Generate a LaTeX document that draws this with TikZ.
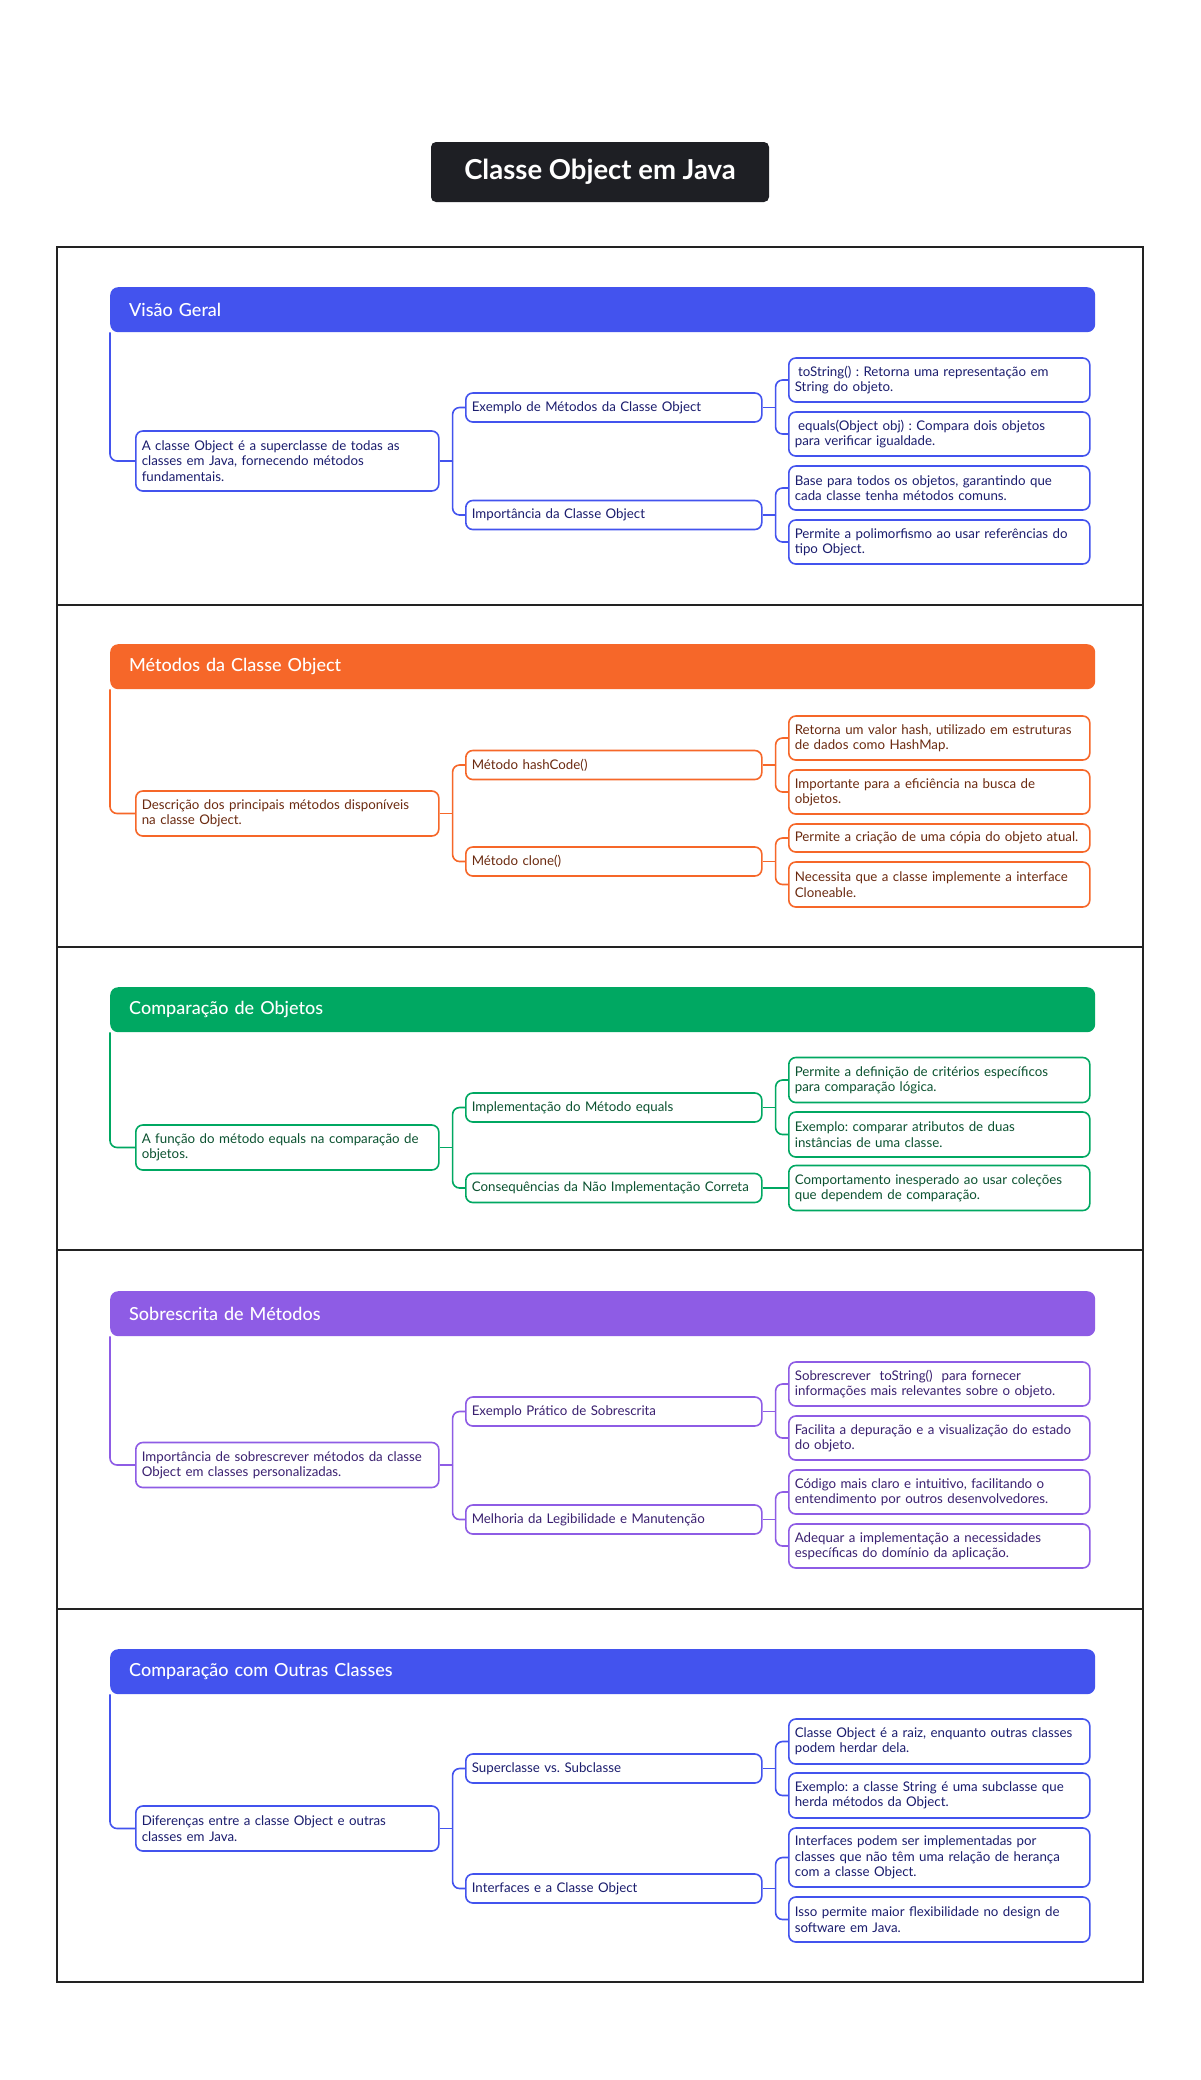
\documentclass[tikz,border=0pt]{standalone}
\usepackage{fontspec}
\setmainfont{Lato}
\IfFontExistsTF{Lato Medium}{\newfontfamily\medfam{Lato Medium}}{\newcommand\medfam{}}
\definecolor{bC}{HTML}{4353EE}
\definecolor{bT}{HTML}{1B1D6E}
\definecolor{oC}{HTML}{F66729}
\definecolor{oT}{HTML}{6B2A10}
\definecolor{gC}{HTML}{00A862}
\definecolor{gT}{HTML}{0B5230}
\definecolor{pC}{HTML}{8E5CE5}
\definecolor{pT}{HTML}{3A2070}
\definecolor{titleC}{HTML}{1E1F24}
\definecolor{frameC}{HTML}{222222}
\colorlet{cur}{bC}
\colorlet{curT}{bT}
\newcommand\bodyf{\frenchspacing\fontsize{13.3}{15.3}\selectfont}
\newcommand\hdrf{\frenchspacing\medfam\fontsize{18}{21}\selectfont}
\newcommand\titlef{\bfseries\fontsize{27.5}{31}\selectfont}
\tikzset{
  hdr/.style={fill=cur, text=white, rounded corners=8pt, anchor=north west,
    minimum height=45pt, text width=947pt, inner xsep=19pt, inner ysep=0pt,
    align=left, font=\hdrf},
  bx/.style={draw=cur, line width=1.6pt, fill=white, rounded corners=7pt,
    anchor=west, inner xsep=6pt, inner ysep=0pt, align=left, text=curT,
    font=\bodyf, minimum height=#1},
  lvA/.style={bx={#1}, text width=291pt},
  lvA/.default=45pt,
  lvB/.style={bx={29pt}, text width=284pt},
  leafbox/.style={bx={#1}, text width=289pt},
  leafbox/.default=44pt,
  conn/.style={draw=cur, line width=1.6pt, rounded corners=7pt},
  stub/.style={draw=cur, line width=1.6pt}
}
\begin{document}
\begin{tikzpicture}[x=1pt,y=-1pt]
\useasboundingbox (0,0) rectangle (1200,2080);
\fill[white] (0,0) rectangle (1200,2080);
% title
\node[fill=titleC, rounded corners=5pt, minimum width=338pt, minimum height=60pt,
  text=white, font=\titlef, inner sep=0pt] (title) at (600,172) {Classe Object em Java};
% frame
\draw[frameC, line width=1.8pt] (57,247) rectangle (1143,1982);
\foreach \yy in {605,947,1250,1609} \draw[frameC, line width=1.8pt] (57,\yy) -- (1143,\yy);

% ---------- Section 1
\begin{scope}
\colorlet{cur}{bC}\colorlet{curT}{bT}
\node[hdr] (h1) at (110,287) {Visão Geral};
\node[lvA=60pt] (a1) at (135,461) {A classe Object é a superclasse de todas as\\classes em Java, fornecendo métodos\\fundamentais.};
\node[lvB] (a2) at (465,407.5) {Exemplo de Métodos da Classe Object};
\node[lvB] (a3) at (465,515) {Importância da Classe Object};
\node[leafbox] (a4) at (788,380) {\hspace*{0.25em}toString() : Retorna uma representação em\\String do objeto.};
\node[leafbox] (a5) at (788,434) {\hspace*{0.25em}equals(Object obj) : Compara dois objetos\\para verificar igualdade.};
\node[leafbox] (a6) at (788,488) {Base para todos os objetos, garantindo que\\cada classe tenha métodos comuns.};
\node[leafbox] (a7) at (788,542) {Permite a polimorfismo ao usar referências do\\tipo Object.};
\draw[conn] (h1.south west) |- (a1.west);
\coordinate (ja1) at ([xshift=13pt]a1.east);
\draw[stub] (a1.east) -- (ja1);
\draw[conn] (ja1) |- (a2.west);
\draw[conn] (ja1) |- (a3.west);
\coordinate (ja2) at ([xshift=13pt]a2.east);
\draw[stub] (a2.east) -- (ja2);
\draw[conn] (ja2) |- (a4.west);
\draw[conn] (ja2) |- (a5.west);
\coordinate (ja3) at ([xshift=13pt]a3.east);
\draw[stub] (a3.east) -- (ja3);
\draw[conn] (ja3) |- (a6.west);
\draw[conn] (ja3) |- (a7.west);
\end{scope}

% ---------- Section 2
\begin{scope}
\colorlet{cur}{oC}\colorlet{curT}{oT}
\node[hdr] (h2) at (110,644) {Métodos da Classe Object};
\node[lvA] (b1) at (135,813.5) {Descrição dos principais métodos disponíveis\\na classe Object.};
\node[lvB] (b2) at (465,765) {Método hashCode()};
\node[lvB] (b3) at (465,861.5) {Método clone()};
\node[leafbox] (b4) at (788,738) {Retorna um valor hash, utilizado em estruturas\\de dados como HashMap.};
\node[leafbox] (b5) at (788,792) {Importante para a eficiência na busca de\\objetos.};
\node[leafbox=28pt] (b6) at (788,838) {Permite a criação de uma cópia do objeto atual.};
\node[leafbox=45pt] (b7) at (788,884.5) {Necessita que a classe implemente a interface\\Cloneable.};
\draw[conn] (h2.south west) |- (b1.west);
\coordinate (jb1) at ([xshift=13pt]b1.east);
\draw[stub] (b1.east) -- (jb1);
\draw[conn] (jb1) |- (b2.west);
\draw[conn] (jb1) |- (b3.west);
\coordinate (jb2) at ([xshift=13pt]b2.east);
\draw[stub] (b2.east) -- (jb2);
\draw[conn] (jb2) |- (b4.west);
\draw[conn] (jb2) |- (b5.west);
\coordinate (jb3) at ([xshift=13pt]b3.east);
\draw[stub] (b3.east) -- (jb3);
\draw[conn] (jb3) |- (b6.west);
\draw[conn] (jb3) |- (b7.west);
\end{scope}

% ---------- Section 3
\begin{scope}
\colorlet{cur}{gC}\colorlet{curT}{gT}
\node[hdr] (h3) at (110,987) {Comparação de Objetos};
\node[lvA] (c1) at (135,1147.5) {A função do método equals na comparação de\\objetos.};
\node[lvB] (c2) at (465,1107.5) {Implementação do Método equals};
\node[lvB] (c3) at (465,1188) {Consequências da Não Implementação Correta};
\node[leafbox=45pt] (c4) at (788,1080) {Permite a definição de critérios específicos\\para comparação lógica.};
\node[leafbox=45pt] (c5) at (788,1134.5) {Exemplo: comparar atributos de duas\\instâncias de uma classe.};
\node[leafbox=45pt] (c6) at (788,1188) {Comportamento inesperado ao usar coleções\\que dependem de comparação.};
\draw[conn] (h3.south west) |- (c1.west);
\coordinate (jc1) at ([xshift=13pt]c1.east);
\draw[stub] (c1.east) -- (jc1);
\draw[conn] (jc1) |- (c2.west);
\draw[conn] (jc1) |- (c3.west);
\coordinate (jc2) at ([xshift=13pt]c2.east);
\draw[stub] (c2.east) -- (jc2);
\draw[conn] (jc2) |- (c4.west);
\draw[conn] (jc2) |- (c5.west);
\draw[stub] (c3.east) -- (c6.west);
\end{scope}

% ---------- Section 4
\begin{scope}
\colorlet{cur}{pC}\colorlet{curT}{pT}
\node[hdr] (h4) at (110,1291) {Sobrescrita de Métodos};
\node[lvA] (d1) at (135,1465) {Importância de sobrescrever métodos da classe\\Object em classes personalizadas.};
\node[lvB] (d2) at (465,1411.5) {Exemplo Prático de Sobrescrita};
\node[lvB] (d3) at (465,1519.5) {Melhoria da Legibilidade e Manutenção};
\node[leafbox] (d4) at (788,1384) {Sobrescrever\ \ toString()\ \ para fornecer\\informações mais relevantes sobre o objeto.};
\node[leafbox] (d5) at (788,1438) {Facilita a depuração e a visualização do estado\\do objeto.};
\node[leafbox] (d6) at (788,1492) {Código mais claro e intuitivo, facilitando o\\entendimento por outros desenvolvedores.};
\node[leafbox] (d7) at (788,1546) {Adequar a implementação a necessidades\\específicas do domínio da aplicação.};
\draw[conn] (h4.south west) |- (d1.west);
\coordinate (jd1) at ([xshift=13pt]d1.east);
\draw[stub] (d1.east) -- (jd1);
\draw[conn] (jd1) |- (d2.west);
\draw[conn] (jd1) |- (d3.west);
\coordinate (jd2) at ([xshift=13pt]d2.east);
\draw[stub] (d2.east) -- (jd2);
\draw[conn] (jd2) |- (d4.west);
\draw[conn] (jd2) |- (d5.west);
\coordinate (jd3) at ([xshift=13pt]d3.east);
\draw[stub] (d3.east) -- (jd3);
\draw[conn] (jd3) |- (d6.west);
\draw[conn] (jd3) |- (d7.west);
\end{scope}

% ---------- Section 5
\begin{scope}
\colorlet{cur}{bC}\colorlet{curT}{bT}
\node[hdr] (h5) at (110,1649) {Comparação com Outras Classes};
\node[lvA] (e1) at (135,1828.5) {Diferenças entre a classe Object e outras\\classes em Java.};
\node[lvB] (e2) at (465,1768.5) {Superclasse vs. Subclasse};
\node[lvB] (e3) at (465,1888.5) {Interfaces e a Classe Object};
\node[leafbox=45pt] (e4) at (788,1741.5) {Classe Object é a raiz, enquanto outras classes\\podem herdar dela.};
\node[leafbox=45pt] (e5) at (788,1795.5) {Exemplo: a classe String é uma subclasse que\\herda métodos da Object.};
\node[leafbox=59pt] (e6) at (788,1857.5) {Interfaces podem ser implementadas por\\classes que não têm uma relação de herança\\com a classe Object.};
\node[leafbox=45pt] (e7) at (788,1919.5) {Isso permite maior flexibilidade no design de\\software em Java.};
\draw[conn] (h5.south west) |- (e1.west);
\coordinate (je1) at ([xshift=13pt]e1.east);
\draw[stub] (e1.east) -- (je1);
\draw[conn] (je1) |- (e2.west);
\draw[conn] (je1) |- (e3.west);
\coordinate (je2) at ([xshift=13pt]e2.east);
\draw[stub] (e2.east) -- (je2);
\draw[conn] (je2) |- (e4.west);
\draw[conn] (je2) |- (e5.west);
\coordinate (je3) at ([xshift=13pt]e3.east);
\draw[stub] (e3.east) -- (je3);
\draw[conn] (je3) |- (e6.west);
\draw[conn] (je3) |- (e7.west);
\end{scope}
\end{tikzpicture}
\end{document}
